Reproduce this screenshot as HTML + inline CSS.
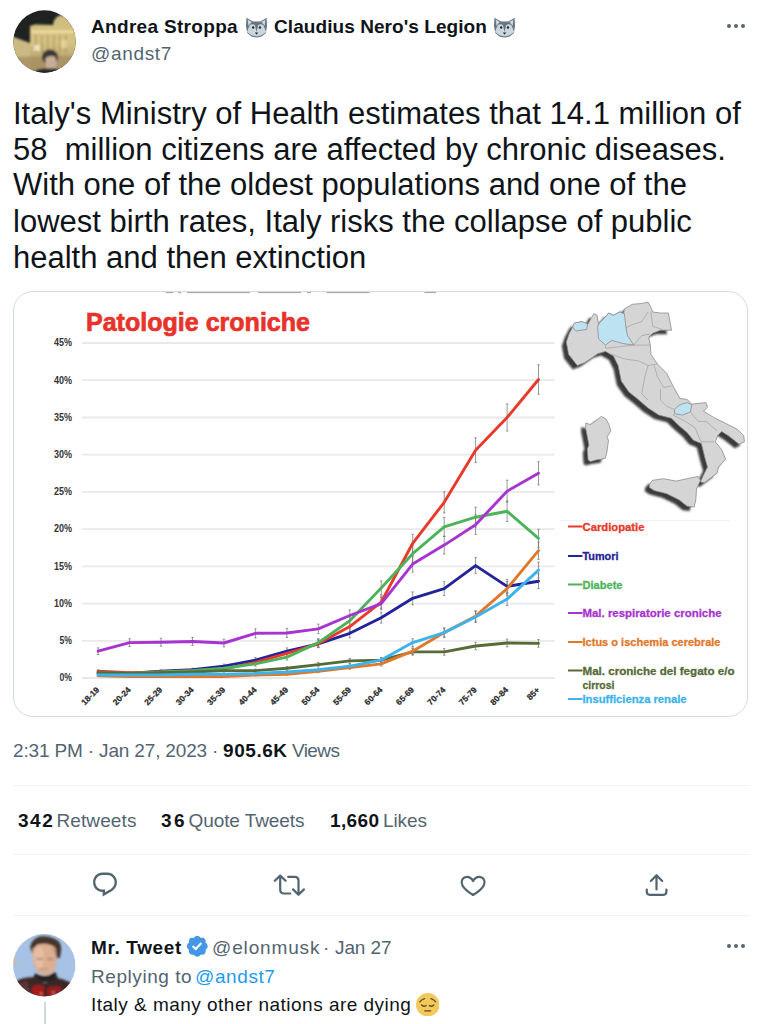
<!DOCTYPE html>
<html><head><meta charset="utf-8">
<style>
html,body{margin:0;padding:0;background:#fff;width:764px;height:1024px;overflow:hidden;position:relative}
body{font-family:"Liberation Sans",sans-serif;color:#0f1419}
.a{position:absolute;white-space:pre;line-height:1}
.g{color:#536471}
.b{font-weight:700}
.sep{position:absolute;left:13px;width:736px;height:1px;background:#eff3f4}
</style></head><body>

<svg width="0" height="0" style="position:absolute"><defs><symbol id="wolf" viewBox="0 0 22 21">
  <path d="M0.4,0.4 L7.2,4.4 L14.6,4.4 L21.1,0.4 L21.5,9 L20.4,16 L16,19.6 L10.8,21 L5.6,19.6 L1.2,16 L0,9 Z" fill="#66757f"/>
  <path d="M1.8,2.4 L5.9,4.9 L2.4,8.6Z M19.8,2.4 L15.7,4.9 L19.2,8.6Z" fill="#ccd6dd"/>
  <path d="M3.6,8.4 Q6.5,6.2 9.2,8.2 L10.8,15.2 L12.4,8.2 Q15.1,6.2 18,8.4 L20.6,15.2 L16,18.4 L10.8,19.6 L5.6,18.4 L1,15.2Z" fill="#ccd6dd"/>
  <circle cx="7.3" cy="10.5" r="1.25" fill="#292f33"/><circle cx="14.3" cy="10.5" r="1.25" fill="#292f33"/>
  <path d="M9,15.6 L12.6,15.6 L10.8,18Z" fill="#292f33"/>
</symbol></defs></svg>
<!-- avatar 1 -->
<svg class="a" style="left:13px;top:10px" width="63" height="63" viewBox="0 0 63 63">
  <defs><clipPath id="c1"><circle cx="31.5" cy="31.5" r="31.2"/></clipPath>
  <linearGradient id="gb" x1="0" y1="0" x2="0" y2="1"><stop offset="0" stop-color="#cdbb80"/><stop offset=".45" stop-color="#d6c283"/><stop offset="1" stop-color="#a58d5c"/></linearGradient>
  <filter id="sb" x="-20%" y="-20%" width="140%" height="140%"><feGaussianBlur stdDeviation="0.9"/></filter></defs>
  <g clip-path="url(#c1)">
    <rect width="63" height="63" fill="#1f2221"/>
    <g filter="url(#sb)">
    <path d="M-2,26 L17,33 L17,60 L-2,58Z" fill="#cbb984"/>
    <path d="M17,33 L17,16 L22,14.5 L40,15 L41,10.5 L44,6.8 L48,5 L53,6.3 L58,9 L65,14 L65,65 L-2,65 L-2,58 L17,60Z" fill="url(#gb)"/>
    <rect x="18" y="20" width="42" height="3.5" fill="#efdc9a" opacity=".85"/>
    <path d="M22,25h1.6v18h-1.6zM28,25h1.6v18h-1.6zM34,25h1.6v18h-1.6zM40,25h1.6v18h-1.6zM46,25h1.6v18h-1.6zM52,25h1.6v18h-1.6z" fill="#9c8552" opacity=".5"/>
    <rect x="21" y="35" width="6" height="6" fill="#f6eed0" opacity=".8"/>
    <rect x="48" y="30" width="6" height="8" fill="#efe0a8" opacity=".6"/>
    <path d="M-2,47 L65,45.5 L65,65 L-2,65Z" fill="#a89064" opacity=".85"/>
    <ellipse cx="37" cy="47" rx="8.2" ry="7.5" fill="#3a3936"/>
    <path d="M32.5,48 Q32,58 35,61 Q40,62 43,57 Q44,51 42.5,47 Q37,44.5 32.5,48Z" fill="#c7ad97"/>
    <path d="M19,65 Q22,58 32,58.5 L42,58.5 Q48,59.5 50,65Z" fill="#262827"/>
    </g>
  </g>
</svg>
<div class="a b" style="left:91px;top:17px;font-size:19px;letter-spacing:0.32px">Andrea Stroppa</div>
<svg class="a" style="left:246px;top:16.6px" width="21.5" height="21" viewBox="0 0 22 21"><use href="#wolf"/></svg>
<div class="a b" style="left:274px;top:17px;font-size:19px;letter-spacing:0.07px">Claudius Nero's Legion</div>
<svg class="a" style="left:493.5px;top:16.6px" width="21.5" height="21" viewBox="0 0 22 21"><use href="#wolf"/></svg>
<div class="a g" style="left:91px;top:44px;font-size:19px;letter-spacing:0.67px">@andst7</div>
<svg class="a" style="left:726px;top:22px" width="20" height="8"><circle cx="3" cy="4" r="2" fill="#536471"/><circle cx="10" cy="4" r="2" fill="#536471"/><circle cx="17" cy="4" r="2" fill="#536471"/></svg>

<!-- tweet text -->
<div class="a" style="left:13px;top:97.5px;font-size:31px">Italy's Ministry of Health estimates that 14.1 million of</div>
<div class="a" style="left:13px;top:133.6px;font-size:31px">58  million citizens are affected by chronic diseases.</div>
<div class="a" style="left:13px;top:169.3px;font-size:31px">With one of the oldest populations and one of the</div>
<div class="a" style="left:13px;top:205.6px;font-size:31px">lowest birth rates, Italy risks the collapse of public</div>
<div class="a" style="left:13px;top:242px;font-size:31px">health and then extinction</div>

<!-- card -->
<div class="a" style="left:13px;top:291px;width:733px;height:424px;border:1px solid #d3dce0;border-radius:20px;overflow:hidden;background:#fff">
<svg id="chart" width="735" height="426" viewBox="13 291 735 426" style="position:absolute;left:-1px;top:-1px">
<g fill="#555" opacity=".5"><rect x="165.7" y="290.5" width="7.8" height="2.6"/><rect x="178" y="290.5" width="3.0" height="2.6"/><rect x="187" y="290.5" width="63.0" height="2.6"/><rect x="258" y="290.5" width="43.0" height="2.6"/><rect x="307" y="290.5" width="4.0" height="2.6"/><rect x="326.5" y="290.5" width="43.1" height="2.6"/><rect x="424.5" y="290.5" width="11.5" height="2.6"/></g>
<text x="86" y="330.5" font-family="Liberation Sans" font-weight="700" font-size="25.5" fill="#e8332a" stroke="#e8332a" stroke-width="0.7" textLength="224" lengthAdjust="spacingAndGlyphs">Patologie croniche</text>
<line x1="82" y1="678.0" x2="554.5" y2="678.0" stroke="#e9e9e9" stroke-width="1.8"/>
<text x="72" y="681.3" text-anchor="end" font-family="Liberation Sans" font-weight="700" font-size="10.5" fill="#333" textLength="12.5" lengthAdjust="spacingAndGlyphs">0%</text>
<line x1="82" y1="640.8" x2="554.5" y2="640.8" stroke="#e9e9e9" stroke-width="1.8"/>
<text x="72" y="644.1" text-anchor="end" font-family="Liberation Sans" font-weight="700" font-size="10.5" fill="#333" textLength="12.5" lengthAdjust="spacingAndGlyphs">5%</text>
<line x1="82" y1="603.6" x2="554.5" y2="603.6" stroke="#e9e9e9" stroke-width="1.8"/>
<text x="72" y="606.9" text-anchor="end" font-family="Liberation Sans" font-weight="700" font-size="10.5" fill="#333" textLength="18" lengthAdjust="spacingAndGlyphs">10%</text>
<line x1="82" y1="566.3" x2="554.5" y2="566.3" stroke="#e9e9e9" stroke-width="1.8"/>
<text x="72" y="569.6" text-anchor="end" font-family="Liberation Sans" font-weight="700" font-size="10.5" fill="#333" textLength="18" lengthAdjust="spacingAndGlyphs">15%</text>
<line x1="82" y1="529.1" x2="554.5" y2="529.1" stroke="#e9e9e9" stroke-width="1.8"/>
<text x="72" y="532.4" text-anchor="end" font-family="Liberation Sans" font-weight="700" font-size="10.5" fill="#333" textLength="18" lengthAdjust="spacingAndGlyphs">20%</text>
<line x1="82" y1="491.9" x2="554.5" y2="491.9" stroke="#e9e9e9" stroke-width="1.8"/>
<text x="72" y="495.2" text-anchor="end" font-family="Liberation Sans" font-weight="700" font-size="10.5" fill="#333" textLength="18" lengthAdjust="spacingAndGlyphs">25%</text>
<line x1="82" y1="454.7" x2="554.5" y2="454.7" stroke="#e9e9e9" stroke-width="1.8"/>
<text x="72" y="458.0" text-anchor="end" font-family="Liberation Sans" font-weight="700" font-size="10.5" fill="#333" textLength="18" lengthAdjust="spacingAndGlyphs">30%</text>
<line x1="82" y1="417.5" x2="554.5" y2="417.5" stroke="#e9e9e9" stroke-width="1.8"/>
<text x="72" y="420.8" text-anchor="end" font-family="Liberation Sans" font-weight="700" font-size="10.5" fill="#333" textLength="18" lengthAdjust="spacingAndGlyphs">35%</text>
<line x1="82" y1="380.2" x2="554.5" y2="380.2" stroke="#e9e9e9" stroke-width="1.8"/>
<text x="72" y="383.5" text-anchor="end" font-family="Liberation Sans" font-weight="700" font-size="10.5" fill="#333" textLength="18" lengthAdjust="spacingAndGlyphs">40%</text>
<line x1="82" y1="343.0" x2="554.5" y2="343.0" stroke="#e9e9e9" stroke-width="1.8"/>
<text x="72" y="346.3" text-anchor="end" font-family="Liberation Sans" font-weight="700" font-size="10.5" fill="#333" textLength="18" lengthAdjust="spacingAndGlyphs">45%</text>
<path d="M98.1 672.4V674.6M96.9 672.4h2.4M96.9 674.6h2.4M129.6 672.4V674.6M128.4 672.4h2.4M128.4 674.6h2.4M161.0 669.9V672.7M159.8 669.9h2.4M159.8 672.7h2.4M192.5 668.2V671.4M191.3 668.2h2.4M191.3 671.4h2.4M223.9 664.1V668.1M222.7 664.1h2.4M222.7 668.1h2.4M255.4 657.6V662.7M254.2 657.6h2.4M254.2 662.7h2.4M286.9 647.9V654.5M285.7 647.9h2.4M285.7 654.5h2.4M318.3 639.9V647.6M317.1 639.9h2.4M317.1 647.6h2.4M349.8 628.8V637.9M348.6 628.8h2.4M348.6 637.9h2.4M381.2 612.3V623.1M380.0 612.3h2.4M380.0 623.1h2.4M412.7 591.9V604.8M411.5 591.9h2.4M411.5 604.8h2.4M444.2 581.7V595.6M443.0 581.7h2.4M443.0 595.6h2.4M475.6 557.6V573.6M474.4 557.6h2.4M474.4 573.6h2.4M507.1 579.4V593.5M505.9 579.4h2.4M505.9 593.5h2.4M538.5 573.9V588.5M537.3 573.9h2.4M537.3 588.5h2.4M98.1 669.9V672.7M96.9 669.9h2.4M96.9 672.7h2.4M129.6 671.6V674.0M128.4 671.6h2.4M128.4 674.0h2.4M161.0 670.7V673.3M159.8 670.7h2.4M159.8 673.3h2.4M192.5 669.1V672.0M191.3 669.1h2.4M191.3 672.0h2.4M223.9 667.4V670.7M222.7 667.4h2.4M222.7 670.7h2.4M255.4 660.0V664.7M254.2 660.0h2.4M254.2 664.7h2.4M286.9 650.3V656.6M285.7 650.3h2.4M285.7 656.6h2.4M318.3 639.9V647.6M317.1 639.9h2.4M317.1 647.6h2.4M349.8 621.7V631.6M348.6 621.7h2.4M348.6 631.6h2.4M381.2 595.8V608.4M380.0 595.8h2.4M380.0 608.4h2.4M412.7 534.3V552.2M411.5 534.3h2.4M411.5 552.2h2.4M444.2 491.8V512.9M443.0 491.8h2.4M443.0 512.9h2.4M475.6 437.8V462.6M474.4 437.8h2.4M474.4 462.6h2.4M507.1 404.0V431.0M505.9 404.0h2.4M505.9 431.0h2.4M538.5 364.8V394.2M537.3 364.8h2.4M537.3 394.2h2.4M98.1 671.6V674.0M96.9 671.6h2.4M96.9 674.0h2.4M129.6 672.4V674.6M128.4 672.4h2.4M128.4 674.6h2.4M161.0 670.7V673.3M159.8 670.7h2.4M159.8 673.3h2.4M192.5 669.1V672.0M191.3 669.1h2.4M191.3 672.0h2.4M223.9 666.6V670.1M222.7 666.6h2.4M222.7 670.1h2.4M255.4 661.6V666.1M254.2 661.6h2.4M254.2 666.1h2.4M286.9 654.3V660.0M285.7 654.3h2.4M285.7 660.0h2.4M318.3 638.7V646.6M317.1 638.7h2.4M317.1 646.6h2.4M349.8 615.4V626.0M348.6 615.4h2.4M348.6 626.0h2.4M381.2 580.9V594.9M380.0 580.9h2.4M380.0 594.9h2.4M412.7 545.2V562.2M411.5 545.2h2.4M411.5 562.2h2.4M444.2 517.3V536.5M443.0 517.3h2.4M443.0 536.5h2.4M475.6 507.2V527.2M474.4 507.2h2.4M474.4 527.2h2.4M507.1 501.0V521.5M505.9 501.0h2.4M505.9 521.5h2.4M538.5 529.3V547.6M537.3 529.3h2.4M537.3 547.6h2.4M98.1 647.9V654.5M96.9 647.9h2.4M96.9 654.5h2.4M129.6 638.7V646.6M128.4 638.7h2.4M128.4 646.6h2.4M161.0 638.3V646.2M159.8 638.3h2.4M159.8 646.2h2.4M192.5 637.5V645.5M191.3 637.5h2.4M191.3 645.5h2.4M223.9 639.1V646.9M222.7 639.1h2.4M222.7 646.9h2.4M255.4 628.8V637.9M254.2 628.8h2.4M254.2 637.9h2.4M286.9 628.4V637.5M285.7 628.4h2.4M285.7 637.5h2.4M318.3 624.1V633.7M317.1 624.1h2.4M317.1 633.7h2.4M349.8 609.9V621.0M348.6 609.9h2.4M348.6 621.0h2.4M381.2 597.4V609.8M380.0 597.4h2.4M380.0 609.8h2.4M412.7 556.0V572.2M411.5 556.0h2.4M411.5 572.2h2.4M444.2 536.2V554.0M443.0 536.2h2.4M443.0 554.0h2.4M475.6 514.9V534.4M474.4 514.9h2.4M474.4 534.4h2.4M507.1 480.2V502.1M505.9 480.2h2.4M505.9 502.1h2.4M538.5 461.7V484.9M537.3 461.7h2.4M537.3 484.9h2.4M98.1 671.6V674.0M96.9 671.6h2.4M96.9 674.0h2.4M129.6 672.4V674.6M128.4 672.4h2.4M128.4 674.6h2.4M161.0 671.6V674.0M159.8 671.6h2.4M159.8 674.0h2.4M192.5 670.7V673.3M191.3 670.7h2.4M191.3 673.3h2.4M223.9 669.1V672.0M222.7 669.1h2.4M222.7 672.0h2.4M255.4 669.1V672.0M254.2 669.1h2.4M254.2 672.0h2.4M286.9 666.6V670.1M285.7 666.6h2.4M285.7 670.1h2.4M318.3 662.5V666.7M317.1 662.5h2.4M317.1 666.7h2.4M349.8 658.4V663.4M348.6 658.4h2.4M348.6 663.4h2.4M381.2 657.6V662.7M380.0 657.6h2.4M380.0 662.7h2.4M412.7 648.7V655.2M411.5 648.7h2.4M411.5 655.2h2.4M444.2 648.7V655.2M443.0 648.7h2.4M443.0 655.2h2.4M475.6 642.3V649.7M474.4 642.3h2.4M474.4 649.7h2.4M507.1 639.1V646.9M505.9 639.1h2.4M505.9 646.9h2.4M538.5 639.5V647.2M537.3 639.5h2.4M537.3 647.2h2.4M98.1 675.1V676.5M96.9 675.1h2.4M96.9 676.5h2.4M129.6 675.8V677.2M128.4 675.8h2.4M128.4 677.2h2.4M161.0 675.8V677.2M159.8 675.8h2.4M159.8 677.2h2.4M192.5 675.8V677.2M191.3 675.8h2.4M191.3 677.2h2.4M223.9 675.8V677.2M222.7 675.8h2.4M222.7 677.2h2.4M255.4 674.2V675.9M254.2 674.2h2.4M254.2 675.9h2.4M286.9 673.3V675.2M285.7 673.3h2.4M285.7 675.2h2.4M318.3 669.9V672.7M317.1 669.9h2.4M317.1 672.7h2.4M349.8 665.7V669.4M348.6 665.7h2.4M348.6 669.4h2.4M381.2 661.6V666.1M380.0 661.6h2.4M380.0 666.1h2.4M412.7 647.9V654.5M411.5 647.9h2.4M411.5 654.5h2.4M444.2 628.0V637.2M443.0 628.0h2.4M443.0 637.2h2.4M475.6 610.7V621.7M474.4 610.7h2.4M474.4 621.7h2.4M507.1 581.7V595.6M505.9 581.7h2.4M505.9 595.6h2.4M538.5 542.1V559.4M537.3 542.1h2.4M537.3 559.4h2.4M98.1 674.2V675.9M96.9 674.2h2.4M96.9 675.9h2.4M129.6 674.2V675.9M128.4 674.2h2.4M128.4 675.9h2.4M161.0 674.2V675.9M159.8 674.2h2.4M159.8 675.9h2.4M192.5 673.3V675.2M191.3 673.3h2.4M191.3 675.2h2.4M223.9 673.3V675.2M222.7 673.3h2.4M222.7 675.2h2.4M255.4 672.4V674.6M254.2 672.4h2.4M254.2 674.6h2.4M286.9 670.7V673.3M285.7 670.7h2.4M285.7 673.3h2.4M318.3 668.2V671.4M317.1 668.2h2.4M317.1 671.4h2.4M349.8 664.1V668.1M348.6 664.1h2.4M348.6 668.1h2.4M381.2 657.6V662.7M380.0 657.6h2.4M380.0 662.7h2.4M412.7 638.7V646.6M411.5 638.7h2.4M411.5 646.6h2.4M444.2 628.0V637.2M443.0 628.0h2.4M443.0 637.2h2.4M475.6 611.5V622.4M474.4 611.5h2.4M474.4 622.4h2.4M507.1 592.7V605.5M505.9 592.7h2.4M505.9 605.5h2.4M538.5 562.2V577.9M537.3 562.2h2.4M537.3 577.9h2.4" stroke="#777" stroke-width=".75" fill="none"/>
<polyline points="98.1,673.5 129.6,673.5 161.0,671.3 192.5,669.8 223.9,666.1 255.4,660.1 286.9,651.2 318.3,643.8 349.8,633.3 381.2,617.7 412.7,598.3 444.2,588.7 475.6,565.6 507.1,586.4 538.5,581.2" fill="none" stroke="#23239a" stroke-width="2.9" stroke-linejoin="round" stroke-linecap="round"/>
<polyline points="98.1,671.3 129.6,672.8 161.0,672.0 192.5,670.6 223.9,669.1 255.4,662.4 286.9,653.4 318.3,643.8 349.8,626.6 381.2,602.1 412.7,543.3 444.2,502.3 475.6,450.2 507.1,417.5 538.5,379.5" fill="none" stroke="#e8392b" stroke-width="2.9" stroke-linejoin="round" stroke-linecap="round"/>
<polyline points="98.1,672.8 129.6,673.5 161.0,672.0 192.5,670.6 223.9,668.3 255.4,663.9 286.9,657.2 318.3,642.6 349.8,620.7 381.2,587.9 412.7,553.7 444.2,526.9 475.6,517.2 507.1,511.3 538.5,538.4" fill="none" stroke="#4db35a" stroke-width="2.9" stroke-linejoin="round" stroke-linecap="round"/>
<polyline points="98.1,651.2 129.6,642.6 161.0,642.3 192.5,641.5 223.9,643.0 255.4,633.3 286.9,633.0 318.3,628.9 349.8,615.5 381.2,603.6 412.7,564.1 444.2,545.1 475.6,524.7 507.1,491.2 538.5,473.3" fill="none" stroke="#a734cf" stroke-width="2.9" stroke-linejoin="round" stroke-linecap="round"/>
<polyline points="98.1,672.8 129.6,673.5 161.0,672.8 192.5,672.0 223.9,670.6 255.4,670.6 286.9,668.3 318.3,664.6 349.8,660.9 381.2,660.1 412.7,651.9 444.2,651.9 475.6,646.0 507.1,643.0 538.5,643.4" fill="none" stroke="#566b38" stroke-width="2.9" stroke-linejoin="round" stroke-linecap="round"/>
<polyline points="98.1,675.8 129.6,676.5 161.0,676.5 192.5,676.5 223.9,676.5 255.4,675.0 286.9,674.3 318.3,671.3 349.8,667.6 381.2,663.9 412.7,651.2 444.2,632.6 475.6,616.2 507.1,588.7 538.5,550.7" fill="none" stroke="#e0782c" stroke-width="2.9" stroke-linejoin="round" stroke-linecap="round"/>
<polyline points="98.1,675.0 129.6,675.0 161.0,675.0 192.5,674.3 223.9,674.3 255.4,673.5 286.9,672.0 318.3,669.8 349.8,666.1 381.2,660.1 412.7,642.6 444.2,632.6 475.6,617.0 507.1,599.1 538.5,570.1" fill="none" stroke="#3db3ec" stroke-width="2.9" stroke-linejoin="round" stroke-linecap="round"/>
<text transform="translate(99.9,690.5) rotate(-45)" text-anchor="end" font-family="Liberation Sans" font-weight="700" font-size="8.4" fill="#2a2a2a" stroke="#2a2a2a" stroke-width="0.25">18-19</text>
<text transform="translate(131.4,690.5) rotate(-45)" text-anchor="end" font-family="Liberation Sans" font-weight="700" font-size="8.4" fill="#2a2a2a" stroke="#2a2a2a" stroke-width="0.25">20-24</text>
<text transform="translate(162.8,690.5) rotate(-45)" text-anchor="end" font-family="Liberation Sans" font-weight="700" font-size="8.4" fill="#2a2a2a" stroke="#2a2a2a" stroke-width="0.25">25-29</text>
<text transform="translate(194.3,690.5) rotate(-45)" text-anchor="end" font-family="Liberation Sans" font-weight="700" font-size="8.4" fill="#2a2a2a" stroke="#2a2a2a" stroke-width="0.25">30-34</text>
<text transform="translate(225.7,690.5) rotate(-45)" text-anchor="end" font-family="Liberation Sans" font-weight="700" font-size="8.4" fill="#2a2a2a" stroke="#2a2a2a" stroke-width="0.25">35-39</text>
<text transform="translate(257.2,690.5) rotate(-45)" text-anchor="end" font-family="Liberation Sans" font-weight="700" font-size="8.4" fill="#2a2a2a" stroke="#2a2a2a" stroke-width="0.25">40-44</text>
<text transform="translate(288.7,690.5) rotate(-45)" text-anchor="end" font-family="Liberation Sans" font-weight="700" font-size="8.4" fill="#2a2a2a" stroke="#2a2a2a" stroke-width="0.25">45-49</text>
<text transform="translate(320.1,690.5) rotate(-45)" text-anchor="end" font-family="Liberation Sans" font-weight="700" font-size="8.4" fill="#2a2a2a" stroke="#2a2a2a" stroke-width="0.25">50-54</text>
<text transform="translate(351.6,690.5) rotate(-45)" text-anchor="end" font-family="Liberation Sans" font-weight="700" font-size="8.4" fill="#2a2a2a" stroke="#2a2a2a" stroke-width="0.25">55-59</text>
<text transform="translate(383.0,690.5) rotate(-45)" text-anchor="end" font-family="Liberation Sans" font-weight="700" font-size="8.4" fill="#2a2a2a" stroke="#2a2a2a" stroke-width="0.25">60-64</text>
<text transform="translate(414.5,690.5) rotate(-45)" text-anchor="end" font-family="Liberation Sans" font-weight="700" font-size="8.4" fill="#2a2a2a" stroke="#2a2a2a" stroke-width="0.25">65-69</text>
<text transform="translate(446.0,690.5) rotate(-45)" text-anchor="end" font-family="Liberation Sans" font-weight="700" font-size="8.4" fill="#2a2a2a" stroke="#2a2a2a" stroke-width="0.25">70-74</text>
<text transform="translate(477.4,690.5) rotate(-45)" text-anchor="end" font-family="Liberation Sans" font-weight="700" font-size="8.4" fill="#2a2a2a" stroke="#2a2a2a" stroke-width="0.25">75-79</text>
<text transform="translate(508.9,690.5) rotate(-45)" text-anchor="end" font-family="Liberation Sans" font-weight="700" font-size="8.4" fill="#2a2a2a" stroke="#2a2a2a" stroke-width="0.25">80-84</text>
<text transform="translate(540.3,690.5) rotate(-45)" text-anchor="end" font-family="Liberation Sans" font-weight="700" font-size="8.4" fill="#2a2a2a" stroke="#2a2a2a" stroke-width="0.25">85+</text>
<line x1="560" y1="520.5" x2="730" y2="520.5" stroke="#f2f2f2" stroke-width="1"/>
<line x1="568" y1="526.5" x2="582.5" y2="526.5" stroke="#e8392b" stroke-width="2.2"/>
<text x="582.5" y="530.5" font-family="Liberation Sans" font-weight="700" font-size="11" fill="#e8392b" stroke="#e8392b" stroke-width="0.3" textLength="62" lengthAdjust="spacingAndGlyphs">Cardiopatie</text>
<line x1="568" y1="556.0" x2="582.5" y2="556.0" stroke="#23239a" stroke-width="2.2"/>
<text x="582.5" y="560.0" font-family="Liberation Sans" font-weight="700" font-size="11" fill="#23239a" stroke="#23239a" stroke-width="0.3" textLength="36" lengthAdjust="spacingAndGlyphs">Tumori</text>
<line x1="568" y1="584.5" x2="582.5" y2="584.5" stroke="#4db35a" stroke-width="2.2"/>
<text x="582.5" y="588.5" font-family="Liberation Sans" font-weight="700" font-size="11" fill="#4db35a" stroke="#4db35a" stroke-width="0.3" textLength="40" lengthAdjust="spacingAndGlyphs">Diabete</text>
<line x1="568" y1="613.0" x2="582.5" y2="613.0" stroke="#a734cf" stroke-width="2.2"/>
<text x="582.5" y="617.0" font-family="Liberation Sans" font-weight="700" font-size="11" fill="#a734cf" stroke="#a734cf" stroke-width="0.3" textLength="139" lengthAdjust="spacingAndGlyphs">Mal. respiratorie croniche</text>
<line x1="568" y1="642.0" x2="582.5" y2="642.0" stroke="#e0782c" stroke-width="2.2"/>
<text x="582.5" y="646.0" font-family="Liberation Sans" font-weight="700" font-size="11" fill="#e0782c" stroke="#e0782c" stroke-width="0.3" textLength="138" lengthAdjust="spacingAndGlyphs">Ictus o ischemia cerebrale</text>
<line x1="568" y1="670.5" x2="582.5" y2="670.5" stroke="#566b38" stroke-width="2.2"/>
<text x="582.5" y="674.5" font-family="Liberation Sans" font-weight="700" font-size="11" fill="#566b38" stroke="#566b38" stroke-width="0.3" textLength="152" lengthAdjust="spacingAndGlyphs">Mal. croniche del fegato e/o</text>
<line x1="568" y1="699.0" x2="582.5" y2="699.0" stroke="#3db3ec" stroke-width="2.2"/>
<text x="582.5" y="703.0" font-family="Liberation Sans" font-weight="700" font-size="11" fill="#3db3ec" stroke="#3db3ec" stroke-width="0.3" textLength="104" lengthAdjust="spacingAndGlyphs">Insufficienza renale</text>
<text x="582.5" y="689" font-family="Liberation Sans" font-weight="700" font-size="11" fill="#566b38" stroke="#566b38" stroke-width="0.3" textLength="32" lengthAdjust="spacingAndGlyphs">cirrosi</text>
<defs><filter id="blur" x="-10%" y="-10%" width="120%" height="120%"><feGaussianBlur stdDeviation="1.3"/></filter></defs>
<g filter="url(#blur)" fill="#3a3a3a" transform="translate(-4.5,4)">
<path d="M572.6,327 L575,323 L582,321.6 L587.5,324.7 L593.8,313.7 L597,315 L598.5,324 L605.5,317 L608.7,313 L613.4,315.3 L619.7,312 L623.6,313.7 L624.4,309 L632.2,304.3 L641.7,303.5 L648,302 L651,307.4 L652.7,312 L660.5,313 L668.4,313 L670,321.6 L671.5,330.2 L660.5,330.2 L652.7,333.3 L648.7,337.3 L650.3,345 L651,354.5 L657.4,364 L666.8,373.4 L673,386 L680,398.5 L687,399.4 L691.8,404.1 L706,402.6 L707.5,407.3 L703.6,411.2 L713.8,417.5 L728,424.6 L737.4,429.3 L743.7,435.5 L744.4,441.8 L739,444.2 L734.2,440.3 L728,435.5 L721.7,431.6 L717.7,435.5 L715.4,441.8 L721.7,449.7 L725.6,459.1 L718.5,467 L717,473.2 L710.7,478 L704.4,482.7 L700.5,481.9 L702.8,476.4 L707.5,467 L704.4,456 L701.3,443.4 L693.4,440.3 L687,432.4 L679.3,426 L671.4,418.3 L658.8,415.1 L648,408 L637,398.5 L629.1,392.2 L621.3,381.2 L618.1,365.5 L613.4,356 L605.5,351.4 L597.7,353.8 L585.1,362.4 L577.3,365.5 L568.6,354.5 L566.3,342 L569,334Z"/>
<path d="M585.7,423.1 L590.4,424.6 L595.9,420.7 L601.4,416.4 L606.1,419.1 L609.3,425.4 L610.8,430.9 L606.9,437.2 L608.5,440.3 L606.9,452.1 L605.3,458.4 L601.4,459.2 L595.9,460 L590.4,461.6 L588.1,460 L587.3,449 L588.9,445 L587.3,436.4 L585.7,428.6Z"/>
<path d="M649.4,484.2 L652.6,480.3 L663.6,478.7 L676.1,481.1 L687.1,478.7 L698.1,476.4 L700.5,480.3 L696.5,489 L695.8,500 L694.2,507 L687.1,506.2 L679.3,500 L666.7,493.7 L654.1,490.5 L649.4,487.4Z"/>
</g>
<path d="M572.6,327 L575,323 L582,321.6 L587.5,324.7 L593.8,313.7 L597,315 L598.5,324 L605.5,317 L608.7,313 L613.4,315.3 L619.7,312 L623.6,313.7 L624.4,309 L632.2,304.3 L641.7,303.5 L648,302 L651,307.4 L652.7,312 L660.5,313 L668.4,313 L670,321.6 L671.5,330.2 L660.5,330.2 L652.7,333.3 L648.7,337.3 L650.3,345 L651,354.5 L657.4,364 L666.8,373.4 L673,386 L680,398.5 L687,399.4 L691.8,404.1 L706,402.6 L707.5,407.3 L703.6,411.2 L713.8,417.5 L728,424.6 L737.4,429.3 L743.7,435.5 L744.4,441.8 L739,444.2 L734.2,440.3 L728,435.5 L721.7,431.6 L717.7,435.5 L715.4,441.8 L721.7,449.7 L725.6,459.1 L718.5,467 L717,473.2 L710.7,478 L704.4,482.7 L700.5,481.9 L702.8,476.4 L707.5,467 L704.4,456 L701.3,443.4 L693.4,440.3 L687,432.4 L679.3,426 L671.4,418.3 L658.8,415.1 L648,408 L637,398.5 L629.1,392.2 L621.3,381.2 L618.1,365.5 L613.4,356 L605.5,351.4 L597.7,353.8 L585.1,362.4 L577.3,365.5 L568.6,354.5 L566.3,342 L569,334Z" fill="#d5d5d5" stroke="#8c8c8c" stroke-width=".8" stroke-linejoin="round"/>
<path d="M585.7,423.1 L590.4,424.6 L595.9,420.7 L601.4,416.4 L606.1,419.1 L609.3,425.4 L610.8,430.9 L606.9,437.2 L608.5,440.3 L606.9,452.1 L605.3,458.4 L601.4,459.2 L595.9,460 L590.4,461.6 L588.1,460 L587.3,449 L588.9,445 L587.3,436.4 L585.7,428.6Z" fill="#d5d5d5" stroke="#8c8c8c" stroke-width=".8" stroke-linejoin="round"/>
<path d="M649.4,484.2 L652.6,480.3 L663.6,478.7 L676.1,481.1 L687.1,478.7 L698.1,476.4 L700.5,480.3 L696.5,489 L695.8,500 L694.2,507 L687.1,506.2 L679.3,500 L666.7,493.7 L654.1,490.5 L649.4,487.4Z" fill="#d5d5d5" stroke="#8c8c8c" stroke-width=".8" stroke-linejoin="round"/>
<path d="M597.7,326.3 L598.5,338.8 L605.5,345.1 L611.8,340.4 L622.8,343.5 L633.8,345.1 L627.5,335.7 L626,327.8 L624.4,313.7 L619.7,312 L613.4,315.3 L608.7,313 L605.5,317 L599.3,323.1Z" fill="#bde3f2" stroke="#8c8c8c" stroke-width=".8" stroke-linejoin="round"/>
<path d="M572.6,327 L574.1,323.1 L582,321.6 L587.5,323.9 L586.7,329.4 L575.7,331Z" fill="#bde3f2" stroke="#8c8c8c" stroke-width=".8" stroke-linejoin="round"/>
<path d="M674.6,409.6 L679.3,404.9 L687.1,402.6 L691.8,404.9 L690.3,412 L682.4,415.1 L674.6,413.6Z" fill="#bde3f2" stroke="#8c8c8c" stroke-width=".8" stroke-linejoin="round"/>
<path d="M605.5,345.1 L605.5,348.3 L619.7,346.7 L633.8,345.1 L651,345.1 M626,327.8 L632.2,324.7 L641.7,321.6 L648,312.1 M633.8,345.1 L641.7,335.7 L650,334 M651,312 L652.7,326.3 L662.1,329.4 M611.8,354.5 L626,359.3 L638.5,360.8 L648,365.5 L657.4,364 M648,365.5 L644.8,376.5 L643.2,386 L641.7,393.8 L648,400 M654.2,365.5 L657.4,376.5 L663.7,387.5 L671.5,386 M660.5,389.1 L660.5,400.1 L666.8,406.4 L674.6,409.6 M674.6,413.6 L673,415.1 L685.5,421.4 L695,427.7 L699.7,438.7 L701.3,441.8 M690.3,412 L698.1,421.4 L706,421.4 L717,430.8 M701.3,441.8 L713.8,441.8" fill="none" stroke="#9c9c9c" stroke-width=".65" stroke-linejoin="round"/>
</svg>
</div>

<!-- time -->
<div class="a g" style="left:13px;top:741px;font-size:19px;letter-spacing:-0.16px">2:31 PM · Jan 27, 2023 ·</div>
<div class="a b" style="left:223px;top:741px;font-size:19px;letter-spacing:0.56px">905.6K</div>
<div class="a g" style="left:292px;top:741px;font-size:19px;letter-spacing:-0.6px">Views</div>
<div class="sep" style="top:785px"></div>
<div class="a b" style="left:18px;top:811px;font-size:19px;letter-spacing:1.55px">342</div>
<div class="a g" style="left:56.5px;top:811px;font-size:19px;letter-spacing:0.1px">Retweets</div>
<div class="a b" style="left:161px;top:811px;font-size:19px;letter-spacing:2.4px">36</div>
<div class="a g" style="left:188.5px;top:811px;font-size:19px;letter-spacing:-0.08px">Quote Tweets</div>
<div class="a b" style="left:330px;top:811px;font-size:19px;letter-spacing:0.37px">1,660</div>
<div class="a g" style="left:383px;top:811px;font-size:19px;letter-spacing:-0.12px">Likes</div>
<div class="sep" style="top:854px"></div>

<!-- actions -->
<svg class="a" style="left:91px;top:870.4px" width="28" height="29.3" viewBox="0 0 24 24" preserveAspectRatio="none"><path fill="#536471" d="M1.751 10c0-4.42 3.584-8 8.005-8h4.366c4.49 0 8.129 3.64 8.129 8.13 0 2.960-1.607 5.68-4.196 7.11l-8.054 4.46v-3.690h-.067c-4.49.1-8.183-3.51-8.183-8.01zm8.005-6c-3.317 0-6.005 2.69-6.005 6 0 3.37 2.77 6.08 6.138 6.01l.351-.01h1.761v2.3l5.087-2.81c1.951-1.08 3.163-3.13 3.163-5.36 0-3.39-2.744-6.13-6.129-6.13H9.756z"/></svg>
<svg class="a" style="left:0;top:0;overflow:visible" width="764" height="1024" viewBox="0 0 764 1024" fill="none" stroke="#536471" stroke-width="2.2" stroke-linecap="round" stroke-linejoin="round">
  <path d="M274.8,880.8 L280.2,875.6 L285.6,880.8 M280.2,876.5 V889.5 Q280.2,893.5 284.2,893.5 H290.2"/>
  <path d="M288.2,876.8 H294.5 Q298.5,876.8 298.5,880.8 V894 M293,889.4 L298.5,894.8 L304,889.4"/>
  <path d="M473.1,881 C471,877.5 467.5,876.3 464.5,877.5 C461.5,878.8 461,882.5 462.5,885.5 C464.5,889.5 469,892.5 473.1,895 C477.2,892.5 481.7,889.5 483.7,885.5 C485.2,882.5 484.7,878.8 481.7,877.5 C478.7,876.3 475.2,877.5 473.1,881Z"/>
  <path d="M650.8,881 L656.5,875.2 L662.2,881 M656.5,876 V889.5 M646.8,889.5 V891.8 Q646.8,894.8 649.8,894.8 H663.4 Q666.4,894.8 666.4,891.8 V889.5"/>
</svg>
<div class="sep" style="top:915px"></div>

<!-- reply -->
<svg class="a" style="left:13px;top:934px" width="62.5" height="62.5" viewBox="0 0 62 62">
  <defs><clipPath id="c2"><circle cx="31" cy="31" r="30.9"/></clipPath><filter id="sb2" x="-20%" y="-20%" width="140%" height="140%"><feGaussianBlur stdDeviation=".8"/></filter></defs>
  <g clip-path="url(#c2)">
    <rect width="62" height="62" fill="#a7c2e5"/>
    <g filter="url(#sb2)">
    <ellipse cx="1.5" cy="27" rx="2" ry="3" fill="#d9b88a" opacity=".8"/>
    <path d="M17,13 Q18,5 27,2.3 Q38,1.5 45,7 Q49,12 47.5,18 L46.5,24 L43,23 L41,13 Q33,9 24,10.5 L19,19Z" fill="#45342a"/>
    <path d="M19.5,15 Q24,9.5 33,9.8 Q40,10.5 42,14 L43,25 Q43,32 41.5,35 Q38,41 33,41 Q25,40.5 21.5,33 Q18.5,25 19.5,15Z" fill="#dcae92"/>
    <path d="M24,12 Q30,12 31,20 Q31,30 27,36 Q23,33 21,26 Q20.5,15 24,12Z" fill="#ecc7ad" opacity=".6"/>
    <path d="M38,14 Q42,18 42.5,26 L44,25 L43,14Z" fill="#b88a72" opacity=".6"/>
    <path d="M23,25 Q26.5,24 30,25 M34,25 Q37,24 40,25" stroke="#8c6656" stroke-width="1" fill="none"/>
    <path d="M26,34.5 Q30,35.5 34,34" stroke="#b78272" stroke-width="1.1" fill="none"/>
    <path d="M22,39 Q31,45 42,37.5 L45,46 Q31,50 19,46Z" fill="#262021"/>
    <path d="M-2,50 Q6,44 16,43 L24,43 L31,49 L45,44 Q55,46 64,53 L64,64 L-2,64Z" fill="#3b2727"/>
    <path d="M19,52 Q25,49 31,52 L31,64 L18,64Z" fill="#a51f1f"/>
    <path d="M34,54 Q41,50 48,53 L47,64 L34,64Z" fill="#981c1c"/>
    <path d="M3,50 L14,46 L17,57 L7,60Z" fill="#5b3434"/>
    <circle cx="28" cy="59" r="1" fill="#cfa0a0"/><circle cx="40" cy="58" r="1" fill="#cfa0a0"/>
    </g>
  </g>
</svg>
<div class="a" style="left:44px;top:1002px;width:2px;height:30px;background:#cfd9de"></div>
<div class="a b" style="left:91px;top:938px;font-size:19px;letter-spacing:0.65px">Mr. Tweet</div>
<svg class="a" style="left:184.6px;top:934px" width="24.5" height="24.5" viewBox="0 0 22 22">
  <path fill="#4696e8" d="M20.396 11c-.018-.646-.215-1.275-.57-1.816-.354-.54-.852-.972-1.438-1.246.223-.607.27-1.264.14-1.897-.131-.634-.437-1.218-.882-1.687-.47-.445-1.053-.75-1.687-.882-.633-.13-1.29-.083-1.897.14-.273-.587-.704-1.086-1.245-1.44S11.647 1.62 11 1.604c-.646.017-1.273.213-1.813.568s-.969.854-1.24 1.44c-.608-.223-1.267-.272-1.902-.14-.635.13-1.22.436-1.69.882-.445.47-.749 1.055-.878 1.688-.13.633-.08 1.29.144 1.896-.587.274-1.087.705-1.443 1.245-.356.54-.555 1.17-.574 1.817.02.647.218 1.276.574 1.817.356.54.856.972 1.443 1.245-.224.606-.274 1.263-.144 1.896.13.634.433 1.218.877 1.688.47.443 1.054.747 1.687.878.633.132 1.29.084 1.897-.136.274.586.705 1.084 1.246 1.439.54.354 1.17.551 1.816.569.647-.016 1.276-.213 1.817-.567s.972-.854 1.245-1.44c.604.239 1.266.296 1.903.164.636-.132 1.22-.447 1.68-.907.46-.46.776-1.044.908-1.681s.075-1.299-.165-1.903c.586-.274 1.084-.705 1.439-1.246.354-.54.551-1.17.569-1.816z"/>
  <path fill="#fff" d="M9.662 14.85l-3.429-3.428 1.293-1.302 2.072 2.072 4.4-4.794 1.347 1.246z"/>
</svg>
<div class="a g" style="left:212px;top:938px;font-size:19px;letter-spacing:0.85px">@elonmusk</div>
<div class="a g" style="left:323px;top:938px;font-size:19px">·</div>
<div class="a g" style="left:335px;top:938px;font-size:19px;letter-spacing:-0.1px">Jan 27</div>
<svg class="a" style="left:726px;top:941.5px" width="20" height="8"><circle cx="3" cy="4" r="2" fill="#536471"/><circle cx="10" cy="4" r="2" fill="#536471"/><circle cx="17" cy="4" r="2" fill="#536471"/></svg>
<div class="a g" style="left:91px;top:967px;font-size:19px;letter-spacing:0.56px">Replying to</div>
<div class="a" style="left:195px;top:967px;font-size:19px;letter-spacing:0.6px;color:#1d9bf0">@andst7</div>
<div class="a" style="left:91px;top:995px;font-size:19px;letter-spacing:0.48px">Italy &amp; many other nations are dying</div>
<svg class="a" style="left:415.5px;top:992.5px" width="23.5" height="23.5" viewBox="0 0 26 26">
  <circle cx="13" cy="13" r="13" fill="#f4c95b"/>
  <path d="M4.2,9.8 Q6.5,7.2 9.5,6.3 M16.5,6.3 Q19.5,7.2 21.8,9.8" stroke="#654b1e" stroke-width="1.5" fill="none" stroke-linecap="round"/>
  <path d="M6.2,13.2 Q8.9,15.9 11.2,13.8 M14.8,13.8 Q17.1,15.9 19.8,13.2" stroke="#654b1e" stroke-width="1.5" fill="none" stroke-linecap="round"/>
  <path d="M9.8,19.8 H16.2" stroke="#654b1e" stroke-width="1.5" fill="none" stroke-linecap="round"/>
</svg>
</body></html>
